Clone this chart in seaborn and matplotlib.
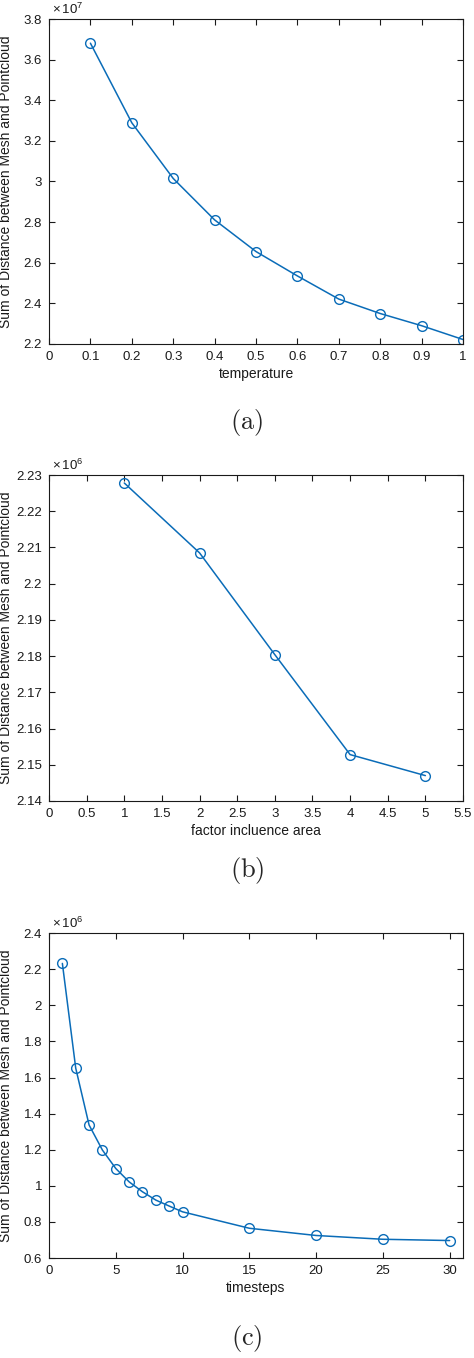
import seaborn as sns
import matplotlib.pyplot as plt
import pandas as pd
from matplotlib.ticker import FuncFormatter

# Data
temperature = [0.1, 0.2, 0.3, 0.4, 0.5, 0.6, 0.7, 0.8, 0.9, 1.0]
dist_temperature = [3.681e7, 3.289e7, 3.015e7, 2.811e7, 2.655e7,
                    2.535e7, 2.421e7, 2.350e7, 2.290e7, 2.222e7]

factor_area = [1, 2, 3, 4, 5]
dist_factor = [2.2278e6, 2.2085e6, 2.1804e6, 2.1528e6, 2.1470e6]

timesteps = [1, 2, 3, 4, 5, 6, 7, 8, 9, 10, 15, 20, 25, 30]
dist_timesteps = [2.232e6, 1.652e6, 1.337e6, 1.198e6, 1.096e6, 1.022e6, 0.967e6,
                  0.921e6, 0.888e6, 0.856e6, 0.765e6, 0.725e6, 0.704e6, 0.697e6]

ylabel = 'Sum of Distance between Mesh and Pointcloud'
line_color = '#0a6cb8'

sns.set_style('ticks')
plt.rcParams['font.family'] = ['Liberation Sans', 'DejaVu Sans']
plt.rcParams['mathtext.fontset'] = 'cm'

fig = plt.figure(figsize=(4.74, 13.58), dpi=100)

panels = [
    dict(x=temperature, y=dist_temperature, xlabel='temperature', exp=7,
         xlim=(0, 1), ylim=(2.2e7, 3.8e7),
         xticks=[0, 0.1, 0.2, 0.3, 0.4, 0.5, 0.6, 0.7, 0.8, 0.9, 1],
         yticks=[2.2e7, 2.4e7, 2.6e7, 2.8e7, 3.0e7, 3.2e7, 3.4e7, 3.6e7, 3.8e7],
         rect=[0.1034, 0.7467, 0.8734, 0.2393], tag='(a)', tag_y=423),
    dict(x=factor_area, y=dist_factor, xlabel='factor incluence area', exp=6,
         xlim=(0, 5.5), ylim=(2.14e6, 2.23e6),
         xticks=[0, 0.5, 1, 1.5, 2, 2.5, 3, 3.5, 4, 4.5, 5, 5.5],
         yticks=[2.14e6, 2.15e6, 2.16e6, 2.17e6, 2.18e6, 2.19e6, 2.2e6, 2.21e6, 2.22e6, 2.23e6],
         rect=[0.1034, 0.4102, 0.8734, 0.2400], tag='(b)', tag_y=870),
    dict(x=timesteps, y=dist_timesteps, xlabel='timesteps', exp=6,
         xlim=(0, 31), ylim=(0.6e6, 2.4e6),
         xticks=[0, 5, 10, 15, 20, 25, 30],
         yticks=[0.6e6, 0.8e6, 1.0e6, 1.2e6, 1.4e6, 1.6e6, 1.8e6, 2.0e6, 2.2e6, 2.4e6],
         rect=[0.1034, 0.0736, 0.8734, 0.2393], tag='(c)', tag_y=1338),
]

for p in panels:
    ax = fig.add_axes(p['rect'])
    df = pd.DataFrame({'x': p['x'], 'y': p['y']})
    sns.lineplot(data=df, x='x', y='y', ax=ax, color=line_color, linewidth=1.1,
                 marker='o', markersize=7, markerfacecolor='none',
                 markeredgecolor=line_color, markeredgewidth=1.0)
    ax.set_xlim(*p['xlim'])
    ax.set_ylim(*p['ylim'])
    ax.set_xticks(p['xticks'])
    ax.set_yticks(p['yticks'])
    scale = 10 ** p['exp']
    ax.yaxis.set_major_formatter(FuncFormatter(lambda v, pos, s=scale: f'{round(v / s, 4):g}'))
    ax.xaxis.set_major_formatter(FuncFormatter(lambda v, pos: f'{v:g}'))
    ax.tick_params(direction='in', top=True, right=True, length=4, width=0.8,
                   labelsize=9.5, colors='#1a1a1a', pad=5)
    for s in ax.spines.values():
        s.set_linewidth(0.8)
        s.set_color('#1a1a1a')
    ax.set_xlabel(p['xlabel'], fontsize=10, labelpad=3, color='#1a1a1a')
    ax.set_ylabel(ylabel, fontsize=10, color='#1a1a1a')
    ax.yaxis.set_label_coords(-0.087, 0.5)
    ax.text(0.008, 1.005, r'$\mathregular{\times\,10^{%d}}$' % p['exp'], transform=ax.transAxes,
            fontsize=9.5, ha='left', va='bottom', color='#1a1a1a')
    fig.text(247 / 474, 1 - p['tag_y'] / 1358, r'$\mathrm{%s}$' % p['tag'],
             fontsize=19, ha='center', va='center')

plt.savefig('out.png', dpi=100)
